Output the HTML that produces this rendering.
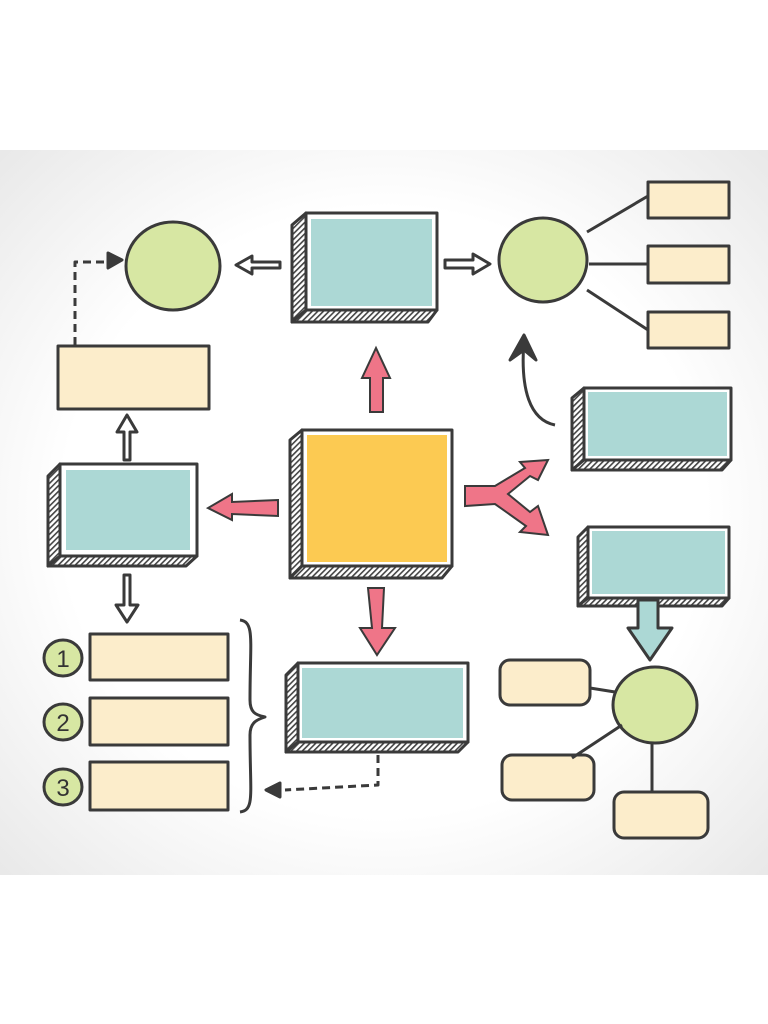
<!DOCTYPE html>
<html><head><meta charset="utf-8"><style>html,body{margin:0;padding:0;background:#fff}svg{display:block}</style></head><body>
<svg width="768" height="1024" viewBox="0 0 768 1024" xmlns="http://www.w3.org/2000/svg">
<defs>
<radialGradient id="bg" cx="50%" cy="50%" r="70%"><stop offset="0.6" stop-color="#ffffff"/><stop offset="1" stop-color="#e9e9e9"/></radialGradient>
<pattern id="h" width="4" height="4" patternUnits="userSpaceOnUse" patternTransform="rotate(45)"><rect width="4" height="4" fill="#fff"/><rect width="1.6" height="4" fill="#444"/></pattern>
</defs>
<rect x="0" y="150" width="768" height="725" fill="url(#bg)"/>
<g stroke="#3a3a3a" stroke-width="3" stroke-linejoin="round">
<g>
<polygon points="292,225 306,213 306,310 292,322" fill="url(#h)"/>
<polygon points="292,322 306,310 437,310 428,322" fill="url(#h)"/>
<rect x="306" y="213" width="131" height="97" fill="#fff"/>
<rect x="311" y="219" width="121" height="87" fill="#acd8d5" stroke="none"/>
</g>
<g>
<polygon points="48,476 60,464 60,556 48,566" fill="url(#h)"/>
<polygon points="48,566 60,556 197,556 186,566" fill="url(#h)"/>
<rect x="60" y="464" width="137" height="92" fill="#fff"/>
<rect x="66" y="470" width="124" height="80" fill="#acd8d5" stroke="none"/>
</g>
<g>
<polygon points="290,440 302,430 302,566 290,578" fill="url(#h)"/>
<polygon points="290,578 302,566 452,566 442,578" fill="url(#h)"/>
<rect x="302" y="430" width="150" height="136" fill="#fff"/>
<rect x="307" y="435" width="140" height="127" fill="#fcca52" stroke="none"/>
</g>
<g>
<polygon points="572,398 584,388 584,460 572,470" fill="url(#h)"/>
<polygon points="572,470 584,460 731,460 722,470" fill="url(#h)"/>
<rect x="584" y="388" width="147" height="72" fill="#fff"/>
<rect x="588" y="392" width="139" height="64" fill="#acd8d5" stroke="none"/>
</g>
<g>
<polygon points="578,537 588,527 588,598 578,606" fill="url(#h)"/>
<polygon points="578,606 588,598 729,598 722,606" fill="url(#h)"/>
<rect x="588" y="527" width="141" height="71" fill="#fff"/>
<rect x="592" y="531" width="133" height="63" fill="#acd8d5" stroke="none"/>
<polygon points="638,600 658,600 658,628 672,628 650,660 628,628 638,628" fill="#acd8d5"/>
</g>
<g>
<polygon points="286,675 298,663 298,742 286,752" fill="url(#h)"/>
<polygon points="286,752 298,742 468,742 458,752" fill="url(#h)"/>
<rect x="298" y="663" width="170" height="79" fill="#fff"/>
<rect x="302" y="668" width="161" height="70" fill="#acd8d5" stroke="none"/>
</g>
<ellipse cx="173" cy="266" rx="47" ry="44" fill="#d7e7a3"/>
<ellipse cx="543" cy="260" rx="44" ry="42" fill="#d7e7a3"/>
<ellipse cx="655" cy="705" rx="42" ry="38" fill="#d7e7a3"/>
<rect x="648" y="182" width="81" height="36" fill="#fcedcb"/>
<rect x="648" y="246" width="81" height="37" fill="#fcedcb"/>
<rect x="648" y="312" width="81" height="36" fill="#fcedcb"/>
<rect x="58" y="346" width="151" height="63" fill="#fcedcb"/>
<rect x="90" y="634" width="138" height="46" fill="#fcedcb"/>
<rect x="90" y="698" width="138" height="47" fill="#fcedcb"/>
<rect x="90" y="762" width="138" height="48" fill="#fcedcb"/>
<rect x="500" y="660" width="90" height="45" rx="10" fill="#fcedcb"/>
<rect x="502" y="755" width="92" height="45" rx="10" fill="#fcedcb"/>
<rect x="614" y="792" width="94" height="46" rx="10" fill="#fcedcb"/>
<path d="M587,232 L648,196 M589,264 L648,264 M587,290 L648,330" fill="none"/>
<path d="M590,688 L615,692 M622,725 L572,758 M652,743 L652,792" fill="none"/>
<path d="M555,425 C530,420 520,390 524,340" fill="none"/>
<polygon points="510,360 524,335 536,360 524,350" fill="#3a3a3a"/>
<path d="M240,620 C255,622 250,640 250,700 C250,712 255,715 265,717 C255,720 250,724 250,735 C250,795 255,810 240,812" fill="none"/>
<path d="M75,345 L75,262 L110,262" fill="none" stroke-dasharray="8,5"/>
<polygon points="108,253 122,260 108,268" fill="#3a3a3a"/>
<path d="M378,755 L378,785 L285,790" fill="none" stroke-dasharray="8,5"/>
<polygon points="280,783 266,790 280,797" fill="#3a3a3a"/>
<ellipse cx="63" cy="658" rx="19" ry="18" fill="#d7e7a3"/>
<ellipse cx="63" cy="722" rx="19" ry="18" fill="#d7e7a3"/>
<ellipse cx="63" cy="787" rx="19" ry="18" fill="#d7e7a3"/>
<polygon fill="#fff" points="280,262 252,262 252,256 236,265 252,274 252,268 280,268"/>
<polygon fill="#fff" points="445,260 473,260 473,254 490,264 473,274 473,268 445,268"/>
<polygon fill="#fff" points="124,460 124,432 117,432 127,415 137,432 130,432 130,460"/>
<polygon fill="#fff" points="124,575 124,605 116,605 127,622 138,605 130,605 130,575"/>
</g>
<g fill="#ef7588" stroke="#3a3a3a" stroke-width="2">
<polygon points="370,412 370,378 362,378 376,348 390,378 383,378 383,412"/>
<polygon points="278,500 232,502 232,494 208,508 232,520 232,514 278,516"/>
<polygon points="368,588 384,588 382,628 395,628 377,655 360,628 372,628"/>
<polygon points="465,486 495,486 525,468 520,462 548,460 538,480 530,476 508,494 530,512 538,506 548,535 520,532 526,526 495,504 465,506"/>
</g>
<g font-family="Liberation Sans, sans-serif" font-size="24" fill="#333" text-anchor="middle">
<text x="63" y="667">1</text><text x="63" y="731">2</text><text x="63" y="796">3</text>
</g>
</svg>
</body></html>
